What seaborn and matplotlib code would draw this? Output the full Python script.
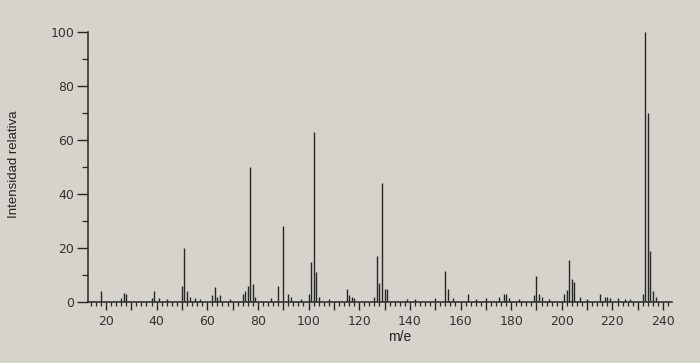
import matplotlib
matplotlib.use("Agg")
import matplotlib.pyplot as plt
import matplotlib.ticker as mticker
import seaborn as sns
import pandas as pd

# ---- data ----
mz = [18, 26, 27, 28, 38, 39, 41, 44, 50, 51, 52, 53, 55, 57, 62, 63, 64, 65,
      69, 74, 75, 76, 77, 78, 79, 85, 88, 90, 92, 93, 97, 100, 101, 102, 103,
      104, 108, 115, 116, 117, 118, 126, 127, 128, 129, 130, 131, 139, 142,
      150, 154, 155, 157, 163, 166, 170, 175, 177, 178, 179, 183, 189, 190,
      191, 192, 195, 201, 202, 203, 204, 205, 207, 210, 215, 217, 218, 219,
      222, 225, 227, 232, 233, 234, 235, 236, 237]
intensity = [4, 1.5, 3.5, 3, 1.5, 4, 1.5, 1, 6, 20, 4, 2, 1.5, 1, 2.5, 5.5, 2,
             2.5, 1, 3, 4, 6, 50, 6.5, 2, 1.5, 6, 28, 3, 2, 1.2, 3, 15, 63, 11,
             2, 1.2, 5, 2.5, 2, 1.5, 2, 17, 7, 44, 5, 5, 1.2, 1.2, 1.5, 11.5,
             5, 1.5, 3, 1.2, 1.5, 2, 3, 3, 1.5, 1.2, 2.5, 9.5, 3, 2, 1.2, 3,
             4.5, 15.5, 8.5, 7.5, 2, 1.2, 3, 2, 2, 1.5, 1.5, 1.2, 1.2, 3, 100,
             70, 19, 4, 2]
x_major = [10, 20, 30, 40, 50, 60, 70, 80, 90, 100, 110, 120, 130, 140, 150,
           160, 170, 180, 190, 200, 210, 220, 230, 240]
x_labels = ["", "20", "", "40", "", "60", "", "80", "", "100", "", "120", "",
            "140", "", "160", "", "180", "", "200", "", "220", "", "240"]
y_major = [0, 20, 40, 60, 80, 100]
y_labels = ["0", "20", "40", "60", "80", "100"]

df = pd.DataFrame({"m/e": mz, "Intensidad relativa": intensity})

paper = "#d6d3cd"
ink = "#262626"

sns.set_theme(style="ticks")
plt.rcParams["font.family"] = ["DejaVu Sans"]

fig = plt.figure(figsize=(7.0, 3.63), dpi=100, facecolor=paper)
ax = fig.add_axes([0.126, 0.168, 0.834, 0.744], facecolor=paper)

ax.vlines(df["m/e"], 0, df["Intensidad relativa"], color=ink, linewidth=1.0)

ax.set_xlim(13, 243.5)
ax.set_ylim(0, 100)

ax.xaxis.set_major_locator(mticker.FixedLocator(x_major))
ax.xaxis.set_major_formatter(mticker.FixedFormatter(x_labels))
ax.xaxis.set_minor_locator(mticker.MultipleLocator(2))
ax.yaxis.set_major_locator(mticker.FixedLocator(y_major))
ax.yaxis.set_major_formatter(mticker.FixedFormatter(y_labels))
ax.yaxis.set_minor_locator(mticker.MultipleLocator(10))

ax.tick_params(axis="x", which="major", direction="out", length=6, width=1.0,
               color=ink, pad=3, labelsize=9, labelcolor="#333333")
ax.tick_params(axis="x", which="minor", direction="out", length=3, width=0.9,
               color=ink)
ax.tick_params(axis="y", which="major", direction="out", length=8, width=1.0,
               color=ink, pad=2, labelsize=9, labelcolor="#333333")
ax.tick_params(axis="y", which="minor", direction="out", length=4, width=0.9,
               color=ink)

sns.despine(ax=ax)
for s in ("left", "bottom"):
    ax.spines[s].set_color(ink)
    ax.spines[s].set_linewidth(1.1)

ax.set_xlabel("m/e", fontsize=10, color="#222222",
              family=["Liberation Sans", "DejaVu Sans"])
ax.xaxis.set_label_coords((400 - 88) / 584, -0.105)
ax.set_ylabel("Intensidad relativa", fontsize=9.5, color="#222222",
              family=["Liberation Sans", "DejaVu Sans"])
ax.yaxis.set_label_coords((20 - 88) / 584, 0.51)

fig.savefig("out.png", dpi=100, facecolor=paper)
